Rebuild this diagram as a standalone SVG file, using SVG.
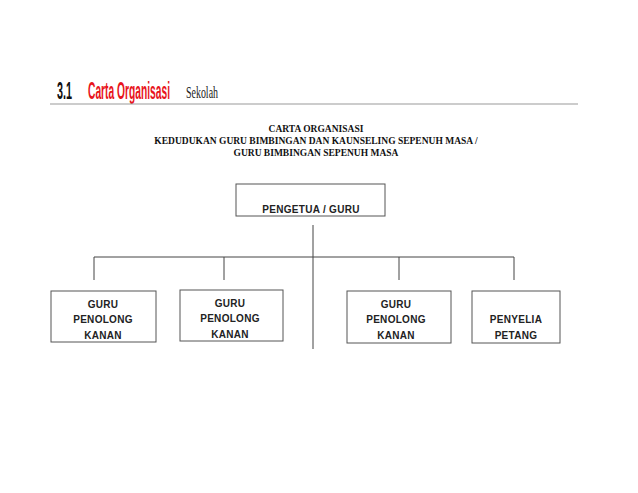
<svg xmlns="http://www.w3.org/2000/svg" width="638" height="493" viewBox="0 0 638 493">
<style>
.b{fill:#fff;stroke:#555;stroke-width:1}
.t{font-family:"Liberation Sans",Arial,sans-serif;font-size:10px;font-weight:bold;text-anchor:middle;fill:#222;letter-spacing:0.3px}
.h{font-family:"Liberation Serif","Times New Roman",serif;font-weight:bold;font-size:9.5px;text-anchor:middle;fill:#111}
.c{stroke:#444;stroke-width:1;fill:none}
</style>
<rect width="638" height="493" fill="#fff"/>
<g id="header">
<text x="57" y="99" font-family="Liberation Sans,sans-serif" font-weight="bold" font-size="24" fill="#111" textLength="15" lengthAdjust="spacingAndGlyphs">3.1</text>
<text x="88" y="99" font-family="Liberation Sans,sans-serif" font-weight="bold" font-size="24" fill="#e8141c" textLength="82" lengthAdjust="spacingAndGlyphs">Carta Organisasi</text>
<text x="186" y="98" font-family="Liberation Serif,serif" font-size="16" fill="#222" textLength="32" lengthAdjust="spacingAndGlyphs">Sekolah</text>
<line x1="50" y1="104" x2="578" y2="104" stroke="#999" stroke-width="1.2"/>
</g>
<g id="title">
<text class="h" x="316" y="132">CARTA ORGANISASI</text>
<text class="h" x="316" y="144">KEDUDUKAN GURU BIMBINGAN DAN KAUNSELING SEPENUH MASA /</text>
<text class="h" x="316" y="156">GURU BIMBINGAN SEPENUH MASA</text>
</g>
<g id="connectors" class="c">
<line x1="313" y1="225" x2="313" y2="349"/>
<line x1="94" y1="257" x2="514" y2="257"/>
<line x1="94" y1="257" x2="94" y2="280"/>
<line x1="224" y1="257" x2="224" y2="280"/>
<line x1="399" y1="257" x2="399" y2="280"/>
<line x1="514" y1="257" x2="514" y2="280"/>
</g>
<g id="pengetua"><rect class="b" x="236" y="184" width="149" height="32"/><text class="t" x="311" y="213">PENGETUA / GURU</text></g>
<g id="guru1"><rect class="b" x="51" y="291" width="105" height="51"/><text class="t" x="103" y="308">GURU</text><text class="t" x="103" y="323">PENOLONG</text><text class="t" x="103" y="339">KANAN</text></g>
<g id="guru2"><rect class="b" x="180" y="290" width="103" height="51"/><text class="t" x="230" y="307">GURU</text><text class="t" x="230" y="322">PENOLONG</text><text class="t" x="230" y="338">KANAN</text></g>
<g id="guru3"><rect class="b" x="347" y="291" width="104" height="52"/><text class="t" x="396" y="308">GURU</text><text class="t" x="396" y="323">PENOLONG</text><text class="t" x="396" y="339">KANAN</text></g>
<g id="penyelia"><rect class="b" x="472" y="291" width="88" height="52"/><text class="t" x="516" y="323">PENYELIA</text><text class="t" x="516" y="339">PETANG</text></g>
</svg>
